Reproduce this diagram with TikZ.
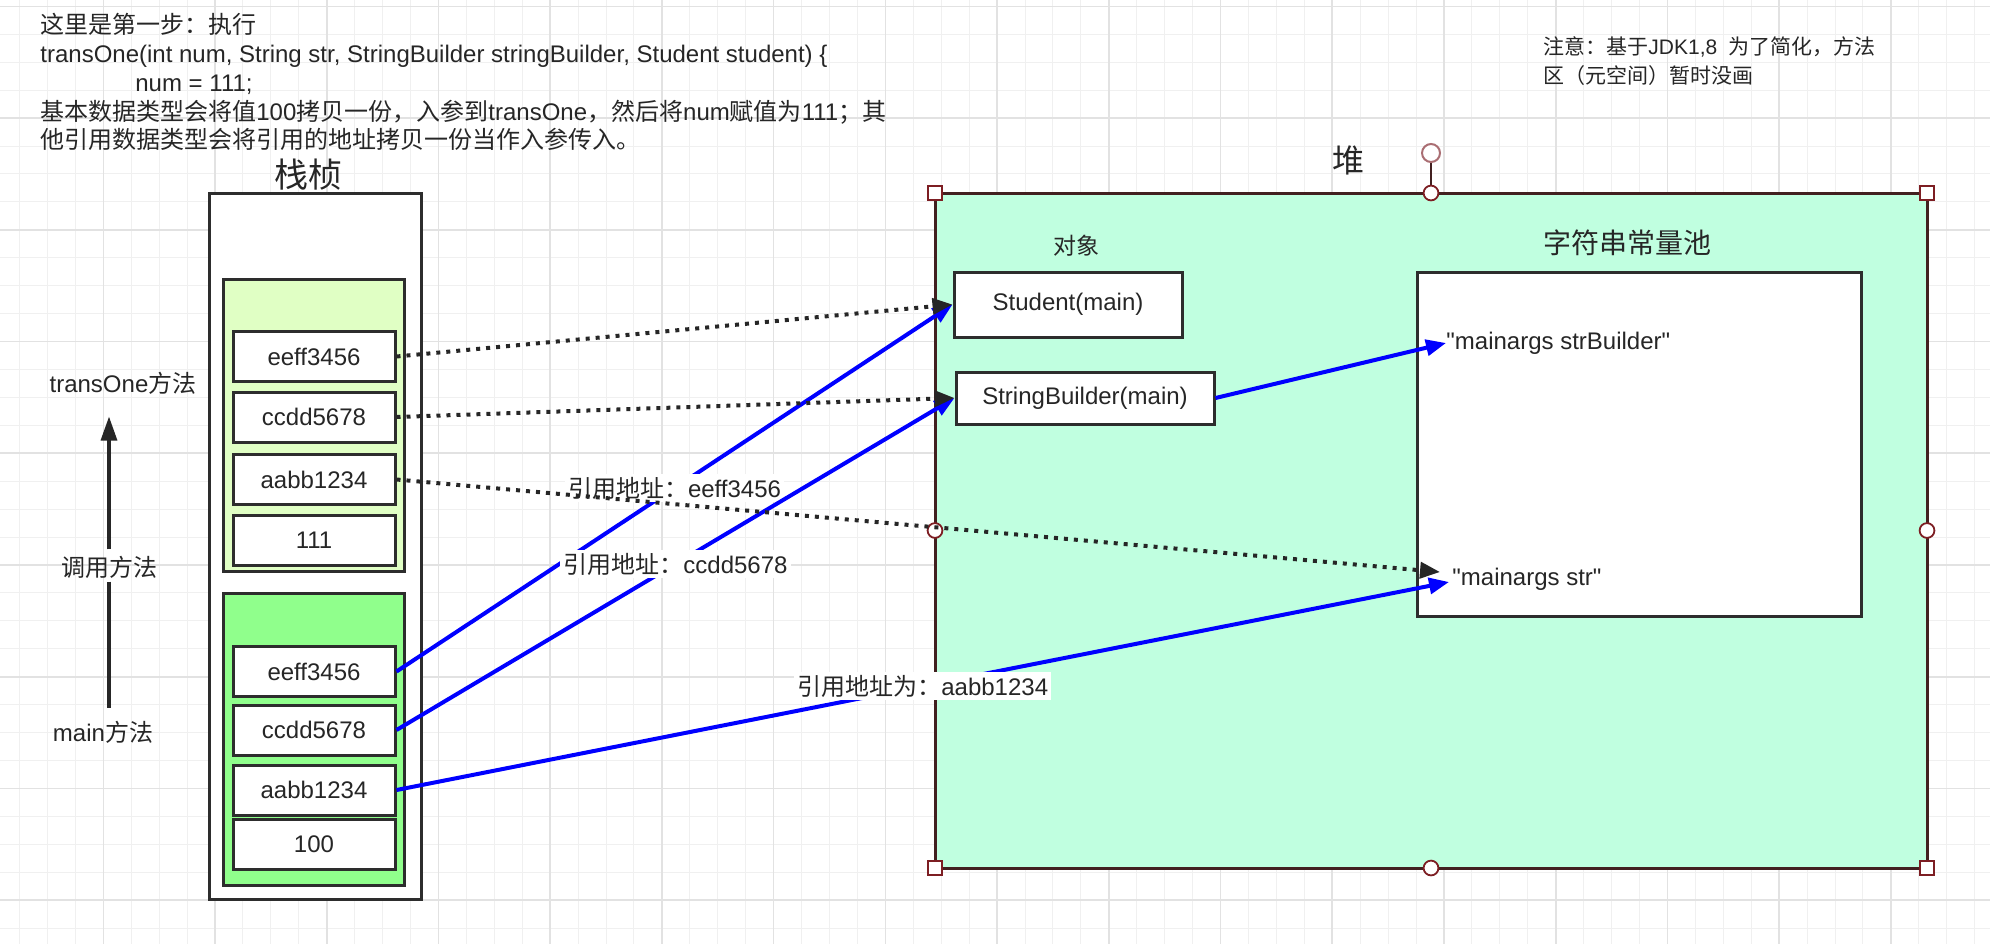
\documentclass[tikz,border=0pt]{standalone}
\usepackage{fontspec}
\setmainfont{Liberation Sans}[Ligatures=TeXOff]
\newfontfamily\cjk{Noto Sans CJK SC}
\newcommand{\zh}[1]{{\cjk #1}}
\usetikzlibrary{arrows.meta}

\definecolor{txt}{RGB}{38,38,38}
\definecolor{boxline}{RGB}{45,45,45}
\definecolor{stackT}{RGB}{224,255,196}
\definecolor{stackM}{RGB}{144,255,140}
\definecolor{heapfill}{RGB}{192,255,224}
\definecolor{heapline}{RGB}{66,32,32}
\definecolor{handle}{RGB}{125,30,35}
\definecolor{rothandle}{RGB}{170,110,115}
\definecolor{gridminor}{RGB}{240,240,240}
\definecolor{gridmajor}{RGB}{226,226,226}

\tikzset{
  frame/.style={draw=boxline, line width=1.5pt, inner sep=0pt},
  cell/.style={frame, fill=white, minimum width=81pt, minimum height=25pt, font=\fontsize{12}{14}\selectfont, text=txt},
  plain/.style={inner sep=0pt, text=txt, font=\fontsize{12}{14}\selectfont},
  ref/.style={draw=blue, line width=2pt, -{Triangle[length=10pt, width=8pt]}},
  copy/.style={draw=txt, line width=2pt, dash pattern=on 2pt off 3pt, -{Triangle[length=10pt, width=8pt]}},
  reflabel/.style={fill=white, inner sep=1.5pt, text=txt, font=\fontsize{12}{14}\selectfont},
  selbox/.style={draw=handle, fill=white, line width=0.9pt}
}

\begin{document}
\begin{tikzpicture}[x=0.5pt, y=-0.5pt]
    \useasboundingbox (0,0) rectangle (1990,944);
    \fill[white] (0,0) rectangle (1990,944);

    \foreach \i in {1,...,72}
        \draw[gridminor, line width=0.5pt] ({-8.4+27.93*\i},0) -- ++(0,944);
    \foreach \i in {0,...,33}
        \draw[gridminor, line width=0.5pt] (0,{6.4+27.93*\i}) -- ++(1990,0);
    \foreach \i in {1,...,18}
        \draw[gridmajor, line width=0.8pt] ({-8.4+111.72*\i},0) -- ++(0,944);
    \foreach \i in {0,...,8}
        \draw[gridmajor, line width=0.8pt] (0,{6.4+111.72*\i}) -- ++(1990,0);

    \node[plain, anchor=north west, align=left, font=\fontsize{12}{14.4}\selectfont] (intro) at (40,13)
        {\zh{这里是第一步：执行}\\
         transOne(int num, String str, StringBuilder stringBuilder, Student student) \{\\
         \hspace*{47.5pt}num = 111;\\
         \zh{基本数据类型会将值}100\zh{拷贝一份，入参到}transOne\zh{，然后将}num\zh{赋值为}111\zh{；其}\\
         \zh{他引用数据类型会将引用的地址拷贝一份当作入参传入。}};
    \node[plain, anchor=north west, align=left, font=\fontsize{10.5}{14.5}\selectfont] (note) at (1543,36)
        {\zh{注意：基于}JDK1,8\ \ \zh{为了简化，方法}\\
         \zh{区（元空间）暂时没画}};

    % stack
    \node[plain, font=\cjk\fontsize{17}{20}\selectfont] (stacktitle) at (308,175) {栈桢};
    \node[frame, fill=white, minimum width=106pt, minimum height=353pt] (stack) at (315,546) {};
    \node[frame, fill=stackT, minimum width=90.5pt, minimum height=146pt] (frameT) at (313.5,425) {};
    \node[frame, fill=stackM, minimum width=90.5pt, minimum height=146pt] (frameM) at (313.5,739) {};

    \node[cell] (eeffT) at (314,356.5) {eeff3456};
    \node[cell] (ccddT) at (314,417) {ccdd5678};
    \node[cell] (aabbT) at (314,479.5) {aabb1234};
    \node[cell] (numT) at (314,540.5) {111};

    \node[cell] (eeffM) at (314,671.5) {eeff3456};
    \node[cell] (ccddM) at (314,730) {ccdd5678};
    \node[cell] (aabbM) at (314,790) {aabb1234};
    \node[cell] (numM) at (314,844) {100};

    \node[plain] (translbl) at (123,383) {transOne\zh{方法}};
    \node[plain] (calllbl) at (109,567) {\zh{调用方法}};
    \node[plain] (mainlbl) at (103,732) {main\zh{方法}};
    \draw[txt, line width=1.6pt, -{Triangle[length=12pt, width=8pt]}, shorten <=3pt, shorten >=11pt]
        (calllbl.north) -- (calllbl.north |- translbl.south);
    \draw[txt, line width=1.6pt, shorten <=1.5pt, shorten >=6pt]
        (calllbl.south) -- (calllbl.south |- mainlbl.north);

    % heap
    \node[plain, font=\cjk\fontsize{16}{19}\selectfont] (heaptitle) at (1348,160) {堆};
    \node[draw=heapline, fill=heapfill, line width=1.5pt, minimum width=496pt, minimum height=337.5pt] (heap) at (1431,530.5) {};
    \node[plain, font=\cjk\fontsize{11.5}{14}\selectfont] (objlbl) at (1076,246) {对象};
    \node[plain, font=\cjk\fontsize{14}{17}\selectfont] (poollbl) at (1627,243) {字符串常量池};

    \node[cell, minimum width=114pt, minimum height=32.5pt] (stu) at (1068,304.5) {Student(main)};
    \node[cell, minimum width=129pt, minimum height=26pt] (sb) at (1085,398) {StringBuilder(main)};
    \node[frame, fill=white, minimum width=222pt, minimum height=172pt] (pool) at (1639,444) {};
    \node[plain, anchor=west] (sbstr) at (1446,343) {"mainargs strBuilder"};
    \node[plain, anchor=west] (strval) at (1452,579) {"mainargs str"};

    % selection handles of the heap
    \draw[heapline, line width=0.9pt] (1431,162) -- (1431,186);
    \draw[draw=rothandle, fill=white, line width=1pt] (1431,153) circle (4.5pt);
    \foreach \hx/\hy in {935/193, 1927/193, 935/868, 1927/868}
        \draw[selbox] (\hx-7,\hy-7) rectangle (\hx+7,\hy+7);
    \foreach \hx/\hy in {1431/193, 1431/868, 935/530.5, 1927/530.5}
        \draw[selbox] (\hx,\hy) circle (3.7pt);

    % references
    \draw[ref] (eeffM.east) -- (stu.west) node[reflabel, pos=0.5] {\zh{引用地址：}eeff3456};
    \draw[ref] (ccddM.east) -- (sb.west) node[reflabel, pos=0.5] {\zh{引用地址：}ccdd5678};
    \draw[ref] (aabbM.east) -- ([xshift=-1.5pt, yshift=-1.5pt]strval.west) node[reflabel, pos=0.5] {\zh{引用地址为：}aabb1234};
    \draw[ref] (sb.east) -- (sbstr.west);

    \draw[copy] (eeffT.east) -- (stu.west);
    \draw[copy] (ccddT.east) -- (sb.west);
    \draw[copy] (aabbT.east) -- ([xshift=-6pt, yshift=3.5pt]strval.west);
\end{tikzpicture}
\end{document}
